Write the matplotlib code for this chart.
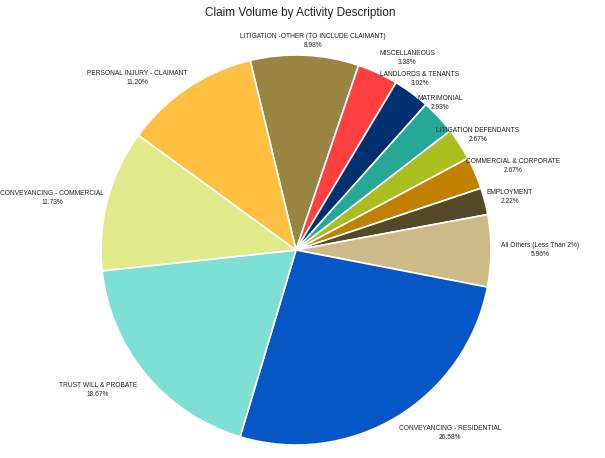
import matplotlib
matplotlib.use("Agg")
import matplotlib.pyplot as plt

labels = ["LITIGATION -OTHER (TO INCLUDE CLAIMANT)", "MISCELLANEOUS", "LANDLORDS & TENANTS",
          "MATRIMONIAL", "LITIGATION DEFENDANTS", "COMMERCIAL & CORPORATE", "EMPLOYMENT",
          "All Others (Less Than 2%)", "CONVEYANCING - RESIDENTIAL", "TRUST WILL & PROBATE",
          "CONVEYANCING - COMMERCIAL", "PERSONAL INJURY - CLAIMANT"]
values = [8.98, 3.38, 3.02, 2.93, 2.67, 2.67, 2.22, 5.96, 26.58, 18.67, 11.73, 11.20]
colors = ["#9A8540", "#FF4040", "#003070", "#26A897", "#AABF1F", "#C08000", "#544A28",
          "#CDBB87", "#0756C6", "#7EE0D4", "#E0EA8A", "#FFBF40"]
# label centre positions in pixels (x, y from top)
label_pos = [(313, 41), (407, 58), (420, 79), (440, 103), (478, 135), (513, 166), (510, 197),
             (540, 250), (450, 433), (98, 390), (52, 198), (137, 78)]

plt.rcParams['font.family'] = ['Liberation Sans', 'DejaVu Sans']
W, H = 605, 458
fig = plt.figure(figsize=(W/100, H/100), dpi=100)
cx, cy, r = 296, 250, 195
ax = fig.add_axes([(cx-r)/W, (H-cy-r)/H, 2*r/W, 2*r/H])
ax.pie(values, colors=colors, startangle=103.6, counterclock=False,
       wedgeprops=dict(edgecolor="white", linewidth=1.2))
ax.set_xlim(-1, 1); ax.set_ylim(-1, 1); ax.set_aspect("equal"); ax.axis("off")

for lab, v, (x, y) in zip(labels, values, label_pos):
    fig.text(x/W, 1-y/H, f"{lab}\n{v:.2f}%", ha="center", va="center",
             fontsize=4.8, color="#222222", linespacing=1.35)

fig.text(300/W, 1-13/H, "Claim Volume by Activity Description", ha="center", va="center",
         fontsize=8.5, color="#222222")
fig.savefig("out.png", dpi=100)
